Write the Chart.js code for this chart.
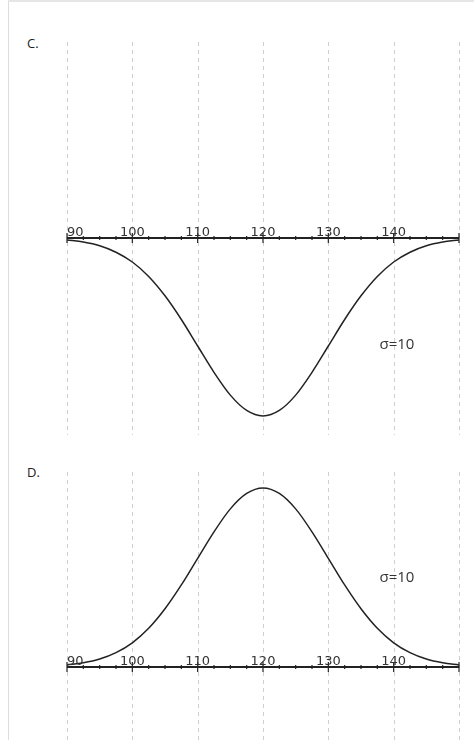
<!DOCTYPE html>
<html><head><meta charset="utf-8">
<script src="https://cdn.jsdelivr.net/npm/chart.js@4/dist/chart.umd.min.js"></script>
<style>
body{margin:0;width:474px;height:740px;background:#fff;position:relative;overflow:hidden;font-family:"Open Sans",sans-serif}
#frameL{position:absolute;left:8px;top:0;width:1px;height:740px;background:#ddd}
#frameT{position:absolute;left:8px;top:0;width:466px;height:2px;background:#e6e6e6}
.lab{position:absolute;left:27px;font-size:13px;color:#222}
canvas{position:absolute;left:0}
</style></head><body>
<div id="frameL"></div><div id="frameT"></div>
<div class="lab" style="top:34px">C.</div>
<div class="lab" style="top:463px">D.</div>
<div style="position:absolute;top:0;left:0;width:474px;height:440px"><canvas id="c1"></canvas></div>
<div style="position:absolute;top:440px;left:0;width:474px;height:300px"><canvas id="c2"></canvas></div>
<script>
const xValues=[90,92.5,95,97.5,100,102.5,105,107.5,110,112.5,115,117.5,120,122.5,125,127.5,130,132.5,135,137.5,140,142.5,145,147.5,150];
const bellValues=[0.011,0.023,0.044,0.080,0.135,0.216,0.325,0.458,0.607,0.755,0.883,0.969,1.0,0.969,0.883,0.755,0.607,0.458,0.325,0.216,0.135,0.080,0.044,0.023,0.011];
const invertedValues=bellValues.map(v=>-v);
const tickLabels=['90','100','110','120','130','140'];
const sigmaLabel='σ=10';

function axisPlugin(sigmaY){return{id:'ax',
beforeDatasetsDraw(ch){const c=ch.ctx,x=ch.scales.x,y=ch.scales.y,a=ch.chartArea;
 c.save();c.strokeStyle='#cfcfcf';c.lineWidth=1;c.setLineDash([4,4]);
 for(let v=90;v<=150;v+=10){const px=Math.round(x.getPixelForValue(v))+0.5;c.beginPath();c.moveTo(px,a.top);c.lineTo(px,a.bottom);c.stroke();}
 c.restore();},
afterDatasetsDraw(ch){const c=ch.ctx,x=ch.scales.x,y=ch.scales.y;const y0=Math.round(y.getPixelForValue(0));
 c.save();c.strokeStyle='#222';c.lineWidth=2;c.beginPath();c.moveTo(x.getPixelForValue(90),y0);c.lineTo(x.getPixelForValue(150),y0);c.stroke();
 c.lineWidth=1.2;
 for(let v=90;v<=150;v+=2.5){const px=x.getPixelForValue(v);const h=(v%10===0)?5:2;c.beginPath();c.moveTo(px,y0-h);c.lineTo(px,y0+h);c.stroke();}
 c.fillStyle='#333';c.font='13px "DejaVu Sans"';c.textBaseline='alphabetic';
 tickLabels.forEach(t=>{const v=+t;c.textAlign=v===90?'left':'center';c.fillText(t,x.getPixelForValue(v),y0-2);});
 c.font='15px "Open Sans"';c.textAlign='center';c.textBaseline='middle';c.fillStyle='#333';
 c.fillText(sigmaLabel,x.getPixelForValue(140.5),y.getPixelForValue(sigmaY));
 c.restore();}}}

function make(id,data,ymin,ymax,pad,sy){
 new Chart(document.getElementById(id),{type:'line',
  data:{labels:xValues,datasets:[{data:xValues.map((v,i)=>({x:v,y:data[i]})),borderColor:'#222',borderWidth:1.5,pointRadius:0,cubicInterpolationMode:'monotone',fill:false}]},
  options:{responsive:true,maintainAspectRatio:false,animation:false,layout:{padding:pad},
   plugins:{legend:{display:false},tooltip:{enabled:false}},
   scales:{x:{type:'linear',min:90,max:150,display:false},y:{min:ymin,max:ymax,display:false}}},
  plugins:[axisPlugin(sy)]});
}
make('c1',invertedValues,-1.107,1.101,{left:67,right:15,top:42,bottom:5},-0.6);
make('c2',bellValues,-0.408,1.089,{left:67,right:15,top:32,bottom:0},0.497);
</script></body></html>
